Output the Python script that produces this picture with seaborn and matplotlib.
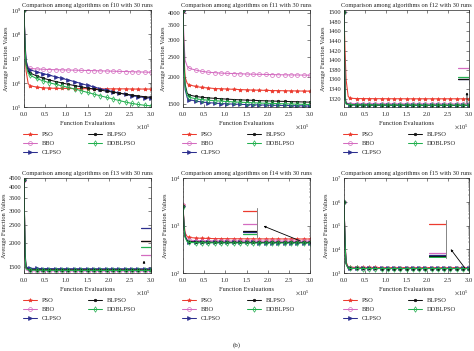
import matplotlib
matplotlib.use('Agg')
import matplotlib.pyplot as plt
import matplotlib.ticker as mticker
import seaborn as sns

# %%
# 数据
evals = [0, 2500, 5000, 10000, 15000, 30000, 45000, 60000, 75000, 90000, 105000, 120000,
         135000, 150000, 165000, 180000, 195000, 210000, 225000, 240000, 255000, 270000,
         285000, 300000]

algos = ['PSO', 'BBO', 'CLPSO', 'BLPSO', 'DDBLPSO']

f10_pso = [1e9, 2e7, 3e6, 9e5, 7.5e5, 6.6e5, 6.2e5, 6.0e5, 5.9e5, 5.8e5, 5.8e5, 5.7e5,
           5.7e5, 5.7e5, 5.6e5, 5.6e5, 5.6e5, 5.6e5, 5.6e5, 5.6e5, 5.5e5, 5.5e5, 5.5e5, 5.5e5]
f10_bbo = [1e9, 5e7, 8e6, 4.2e6, 3.9e6, 3.7e6, 3.6e6, 3.5e6, 3.45e6, 3.4e6, 3.35e6, 3.3e6,
           3.25e6, 3.2e6, 3.15e6, 3.1e6, 3.05e6, 3.0e6, 2.95e6, 2.9e6, 2.85e6, 2.8e6, 2.75e6, 2.7e6]
f10_clpso = [1e9, 4e7, 8e6, 4e6, 3.4e6, 2.8e6, 2.4e6, 2.05e6, 1.75e6, 1.5e6, 1.3e6, 1.1e6,
             9.3e5, 7.8e5, 6.7e5, 5.7e5, 4.9e5, 4.3e5, 3.8e5, 3.3e5, 2.95e5, 2.65e5, 2.45e5, 2.3e5]
f10_blpso = [1e9, 3e7, 6e6, 3e6, 2.5e6, 1.9e6, 1.55e6, 1.3e6, 1.12e6, 9.8e5, 8.6e5, 7.6e5,
             6.8e5, 6.1e5, 5.5e5, 5.0e5, 4.5e5, 4.1e5, 3.7e5, 3.4e5, 3.1e5, 2.85e5, 2.65e5, 2.5e5]
f10_ddblpso = [1e9, 2.5e7, 5e6, 2.4e6, 2.0e6, 1.5e6, 1.2e6, 1.0e6, 8.6e5, 7.4e5, 6.4e5, 5.5e5,
               4.7e5, 4.0e5, 3.4e5, 2.9e5, 2.5e5, 2.15e5, 1.85e5, 1.6e5, 1.4e5, 1.27e5, 1.18e5, 1.12e5]

f11_pso = [4100, 2500, 2000, 1870, 1840, 1810, 1790, 1780, 1770, 1765, 1760, 1755,
           1750, 1745, 1740, 1738, 1735, 1732, 1730, 1728, 1726, 1724, 1722, 1720]
f11_bbo = [4100, 2900, 2400, 2250, 2200, 2160, 2130, 2110, 2100, 2090, 2085, 2080,
           2075, 2070, 2066, 2063, 2060, 2057, 2054, 2052, 2050, 2048, 2046, 2044]
f11_clpso = [4100, 2100, 1750, 1600, 1570, 1545, 1530, 1520, 1512, 1505, 1500, 1496,
             1492, 1489, 1486, 1483, 1480, 1478, 1476, 1474, 1472, 1470, 1468, 1466]
f11_blpso = [4100, 2300, 1850, 1680, 1650, 1625, 1610, 1600, 1592, 1585, 1578, 1572,
             1567, 1562, 1558, 1554, 1550, 1546, 1543, 1540, 1537, 1534, 1531, 1528]
f11_ddblpso = [4150, 2200, 1800, 1640, 1610, 1585, 1570, 1560, 1552, 1545, 1538, 1532,
               1527, 1522, 1518, 1514, 1510, 1507, 1504, 1501, 1498, 1495, 1492, 1490]

f12_pso = [1500, 1420, 1360, 1325, 1321, 1320.6, 1320.4, 1320.3, 1320.2, 1320.2, 1320.1, 1320.1,
           1320.1, 1320.0, 1320.0, 1320.0, 1320.0, 1320.0, 1320.0, 1320.0, 1320.0, 1320.0, 1320.0, 1320.0]
f12_bbo = [1500, 1330, 1312, 1310.5, 1310.2, 1310.0, 1309.9, 1309.8, 1309.8, 1309.7, 1309.7, 1309.6,
           1309.6, 1309.6, 1309.5, 1309.5, 1309.5, 1309.5, 1309.4, 1309.4, 1309.4, 1309.4, 1309.4, 1309.4]
f12_clpso = [1500, 1320, 1310, 1308, 1307.6, 1307.3, 1307.1, 1307.0, 1306.9, 1306.8, 1306.7, 1306.7,
             1306.6, 1306.6, 1306.5, 1306.5, 1306.4, 1306.4, 1306.4, 1306.3, 1306.3, 1306.3, 1306.3, 1306.3]
f12_blpso = [1500, 1322, 1311, 1308.3, 1307.8, 1307.5, 1307.3, 1307.1, 1307.0, 1306.9, 1306.8, 1306.8,
             1306.7, 1306.7, 1306.6, 1306.6, 1306.6, 1306.5, 1306.5, 1306.5, 1306.4, 1306.4, 1306.4, 1306.4]
f12_ddblpso = [1500, 1318, 1309, 1307.9, 1307.6, 1307.4, 1307.3, 1307.2, 1307.2, 1307.1, 1307.1, 1307.0,
               1307.0, 1307.0, 1307.0, 1306.9, 1306.9, 1306.9, 1306.9, 1306.9, 1306.9, 1306.9, 1306.9, 1306.9]

f13_pso = [4400, 1750, 1480, 1452, 1447, 1444, 1443, 1442, 1442, 1441, 1441, 1441,
           1441, 1441, 1440, 1440, 1440, 1440, 1440, 1440, 1440, 1440, 1440, 1440]
f13_bbo = [4400, 1650, 1440, 1425, 1422, 1421, 1420, 1420, 1419, 1419, 1419, 1419,
           1419, 1418, 1418, 1418, 1418, 1418, 1418, 1418, 1418, 1418, 1418, 1418]
f13_clpso = [4400, 1800, 1500, 1472, 1467, 1465, 1464, 1463, 1462, 1462, 1461, 1461,
             1461, 1461, 1461, 1460, 1460, 1460, 1460, 1460, 1460, 1460, 1460, 1460]
f13_blpso = [4400, 1720, 1470, 1450, 1445, 1443, 1442, 1441, 1441, 1440, 1440, 1440,
             1440, 1440, 1439, 1439, 1439, 1439, 1439, 1439, 1439, 1439, 1439, 1439]
f13_ddblpso = [4450, 1700, 1460, 1440, 1436, 1434, 1433, 1432, 1432, 1431, 1431, 1431,
               1431, 1431, 1430, 1430, 1430, 1430, 1430, 1430, 1430, 1430, 1430, 1430]

f14_pso = [2700, 1100, 700, 580, 560, 545, 538, 533, 530, 528, 527, 526,
           525, 524, 523, 523, 522, 522, 521, 521, 520, 520, 520, 520]
f14_bbo = [2700, 1000, 620, 510, 490, 482, 478, 476, 474, 473, 472, 472,
           471, 471, 471, 470, 470, 470, 470, 470, 470, 470, 470, 470]
f14_clpso = [2600, 950, 580, 470, 455, 448, 445, 443, 442, 441, 440, 440,
             439, 439, 439, 438, 438, 438, 438, 438, 438, 438, 438, 438]
f14_blpso = [2600, 960, 585, 475, 458, 451, 448, 446, 445, 444, 443, 443,
             443, 442, 442, 442, 442, 442, 442, 442, 442, 442, 442, 442]
f14_ddblpso = [2500, 900, 560, 455, 440, 434, 432, 431, 430, 429, 429, 429,
               429, 428, 428, 428, 428, 428, 428, 428, 428, 428, 428, 428]

f15_pso = [1e6, 2.5e4, 3000, 1800, 1740, 1720, 1712, 1708, 1705, 1704, 1703, 1702,
           1702, 1701, 1701, 1701, 1700, 1700, 1700, 1700, 1700, 1700, 1700, 1700]
f15_bbo = [1e6, 2e4, 2600, 1620, 1585, 1572, 1567, 1564, 1563, 1562, 1561, 1561,
           1561, 1560, 1560, 1560, 1560, 1560, 1560, 1560, 1560, 1560, 1560, 1560]
f15_clpso = [1e6, 2e4, 2500, 1600, 1570, 1560, 1556, 1554, 1553, 1552, 1551, 1551,
             1551, 1550, 1550, 1550, 1550, 1550, 1550, 1550, 1550, 1550, 1550, 1550]
f15_blpso = [1e6, 1.8e4, 2450, 1590, 1562, 1553, 1550, 1548, 1547, 1546, 1546, 1546,
             1545, 1545, 1545, 1545, 1545, 1545, 1545, 1545, 1545, 1545, 1545, 1545]
f15_ddblpso = [1e6, 1.6e4, 2400, 1580, 1555, 1547, 1544, 1543, 1542, 1541, 1541, 1541,
               1540, 1540, 1540, 1540, 1540, 1540, 1540, 1540, 1540, 1540, 1540, 1540]

# %%
sns.set_theme(style='ticks')
plt.rcParams['font.family'] = ['Liberation Serif', 'DejaVu Serif']
plt.rcParams['mathtext.fontset'] = 'stix'
FS = 4.6

colors = ['#ec3b2f', '#d46cc0', '#2c2f8f', '#111111', '#23b04f']
markers = ['*', 'o', '>', '.', 'd']
hollow = [False, True, False, False, True]

W, H = 474, 351
fig = plt.figure(figsize=(W / 100, H / 100), dpi=100)


def px_axes(x0, y0, x1, y1):
    return fig.add_axes([x0 / W, 1 - y1 / H, (x1 - x0) / W, (y1 - y0) / H])


def draw(ax, series, name, yscale, ylim, yticks=None):
    for i, (lab, ys) in enumerate(zip(algos, series)):
        kw = dict(marker=markers[i], markersize=2.8 if markers[i] != '.' else 3.6,
                  markevery=[0] + list(range(4, len(evals))), markeredgewidth=0.5,
                  markeredgecolor=colors[i])
        if hollow[i]:
            kw['markerfacecolor'] = 'none'
        sns.lineplot(x=evals, y=ys, ax=ax, color=colors[i], linewidth=0.75,
                     estimator=None, label=lab, legend=False, **kw)
    ax.set_yscale(yscale)
    ax.set_ylim(*ylim)
    ax.set_xlim(0, 300000)
    ax.set_xticks([0, 50000, 100000, 150000, 200000, 250000, 300000])
    ax.xaxis.set_major_formatter(mticker.ScalarFormatter(useMathText=True))
    ax.ticklabel_format(axis='x', style='sci', scilimits=(5, 5), useMathText=True)
    ax.xaxis.get_offset_text().set_fontsize(FS)
    if yticks is not None:
        ax.yaxis.set_major_locator(mticker.FixedLocator(yticks))
        ax.yaxis.set_major_formatter(mticker.FormatStrFormatter('%d'))
        ax.yaxis.set_minor_locator(mticker.NullLocator())
    elif yscale == 'log':
        ax.yaxis.set_major_locator(mticker.LogLocator(base=10, numticks=10))
        ax.yaxis.set_minor_formatter(mticker.NullFormatter())
    ax.tick_params(direction='in', top=True, right=True, labelsize=FS, length=2, width=0.4, pad=2)
    ax.tick_params(which='minor', direction='in', top=True, right=True, length=1, width=0.3)
    for s in ax.spines.values():
        s.set_linewidth(0.5)
    ax.set_title('Comparison among algorithms on {} with 30 runs'.format(name), fontsize=FS, pad=2)
    ax.set_xlabel('Function Evaluations', fontsize=FS, labelpad=2)
    ax.set_ylabel('Average Function Values', fontsize=FS, labelpad=1.5)


def inset(box, series, ylim):
    ia = px_axes(*box)
    for i, ys in enumerate(series):
        sns.lineplot(x=evals[-2:], y=ys[-2:], ax=ia, color=colors[i], linewidth=0.9,
                     estimator=None, legend=False)
    ia.set_xlim(evals[-2], evals[-1])
    ia.set_ylim(*ylim)
    ia.set_xticks([])
    ia.set_yticks([])
    ia.set_xlabel('')
    ia.set_ylabel('')
    ia.patch.set_alpha(0)
    for k in ['left', 'top', 'bottom']:
        ia.spines[k].set_visible(False)
    ia.spines['right'].set_linewidth(0.5)
    ia.spines['right'].set_color('#555555')


def arrow(ax, head, tail):
    ax.annotate('', xy=head, xycoords='axes fraction', xytext=tail, textcoords='axes fraction',
                arrowprops=dict(arrowstyle='-|>', color='black', lw=0.6, mutation_scale=3))


def legend(ax, x0, y0):
    h, l = ax.get_legend_handles_labels()
    fig.legend(h, l, loc='upper left', bbox_to_anchor=(x0 / W, 1 - y0 / H), ncol=2,
               frameon=False, fontsize=FS, handlelength=2.2, handletextpad=0.8,
               columnspacing=4.0, labelspacing=0.5, borderaxespad=0, borderpad=0)


cols = [(24, 151), (183, 310), (344, 469)]
top = (10, 107)
bot = (178, 273)

ax10 = px_axes(cols[0][0], top[0], cols[0][1], top[1])
draw(ax10, [f10_pso, f10_bbo, f10_clpso, f10_blpso, f10_ddblpso], 'f10', 'log', (1e5, 1e9))

ax11 = px_axes(cols[1][0], top[0], cols[1][1], top[1])
draw(ax11, [f11_pso, f11_bbo, f11_clpso, f11_blpso, f11_ddblpso], 'f11', 'log', (1450, 4130),
     yticks=[1500, 2000, 2500, 3000, 3500, 4000])

ax12 = px_axes(cols[2][0], top[0], cols[2][1], top[1])
f12 = [f12_pso, f12_bbo, f12_clpso, f12_blpso, f12_ddblpso]
draw(ax12, f12, 'f12', 'linear', (1303, 1504),
     yticks=[1320, 1340, 1360, 1380, 1400, 1420, 1440, 1460, 1480, 1500])

ax13 = px_axes(cols[0][0], bot[0], cols[0][1], bot[1])
f13 = [f13_pso, f13_bbo, f13_clpso, f13_blpso, f13_ddblpso]
draw(ax13, f13, 'f13', 'log', (1385, 4500),
     yticks=[1500, 2000, 2500, 3000, 3500, 4000, 4500])

ax14 = px_axes(cols[1][0], bot[0], cols[1][1], bot[1])
f14 = [f14_pso, f14_bbo, f14_clpso, f14_blpso, f14_ddblpso]
draw(ax14, f14, 'f14', 'log', (1e2, 1e4))

ax15 = px_axes(cols[2][0], bot[0], cols[2][1], bot[1])
f15 = [f15_pso, f15_bbo, f15_clpso, f15_blpso, f15_ddblpso]
draw(ax15, f15, 'f15', 'log', (1e3, 1e7))

# zoomed insets of the final values
inset((458, 65, 469, 84), f12, (1305, 1310.2))
arrow(ax12, (0.984, 0.18), (0.984, 0.01))
inset((141, 227, 151, 257), f13, (1414, 1462))
arrow(ax13, (0.945, 0.16), (0.945, 0.07))
inset((243, 208, 257, 237), f14, (418, 530))
arrow(ax14, (0.614, 0.505), (0.945, 0.326))
inset((429, 220, 446, 258), f15, (1535, 1720))
arrow(ax15, (0.84, 0.274), (0.98, 0.03))

for ax, (c0, _) in zip([ax10, ax11, ax12], cols):
    legend(ax, c0 - 1, 132)
for ax, (c0, _) in zip([ax13, ax14, ax15], cols):
    legend(ax, c0 - 1, 298)

fig.text(0.5, 1 - 345 / H, '(b)', ha='center', va='center', fontsize=5)

plt.savefig('out.png', dpi=100)
